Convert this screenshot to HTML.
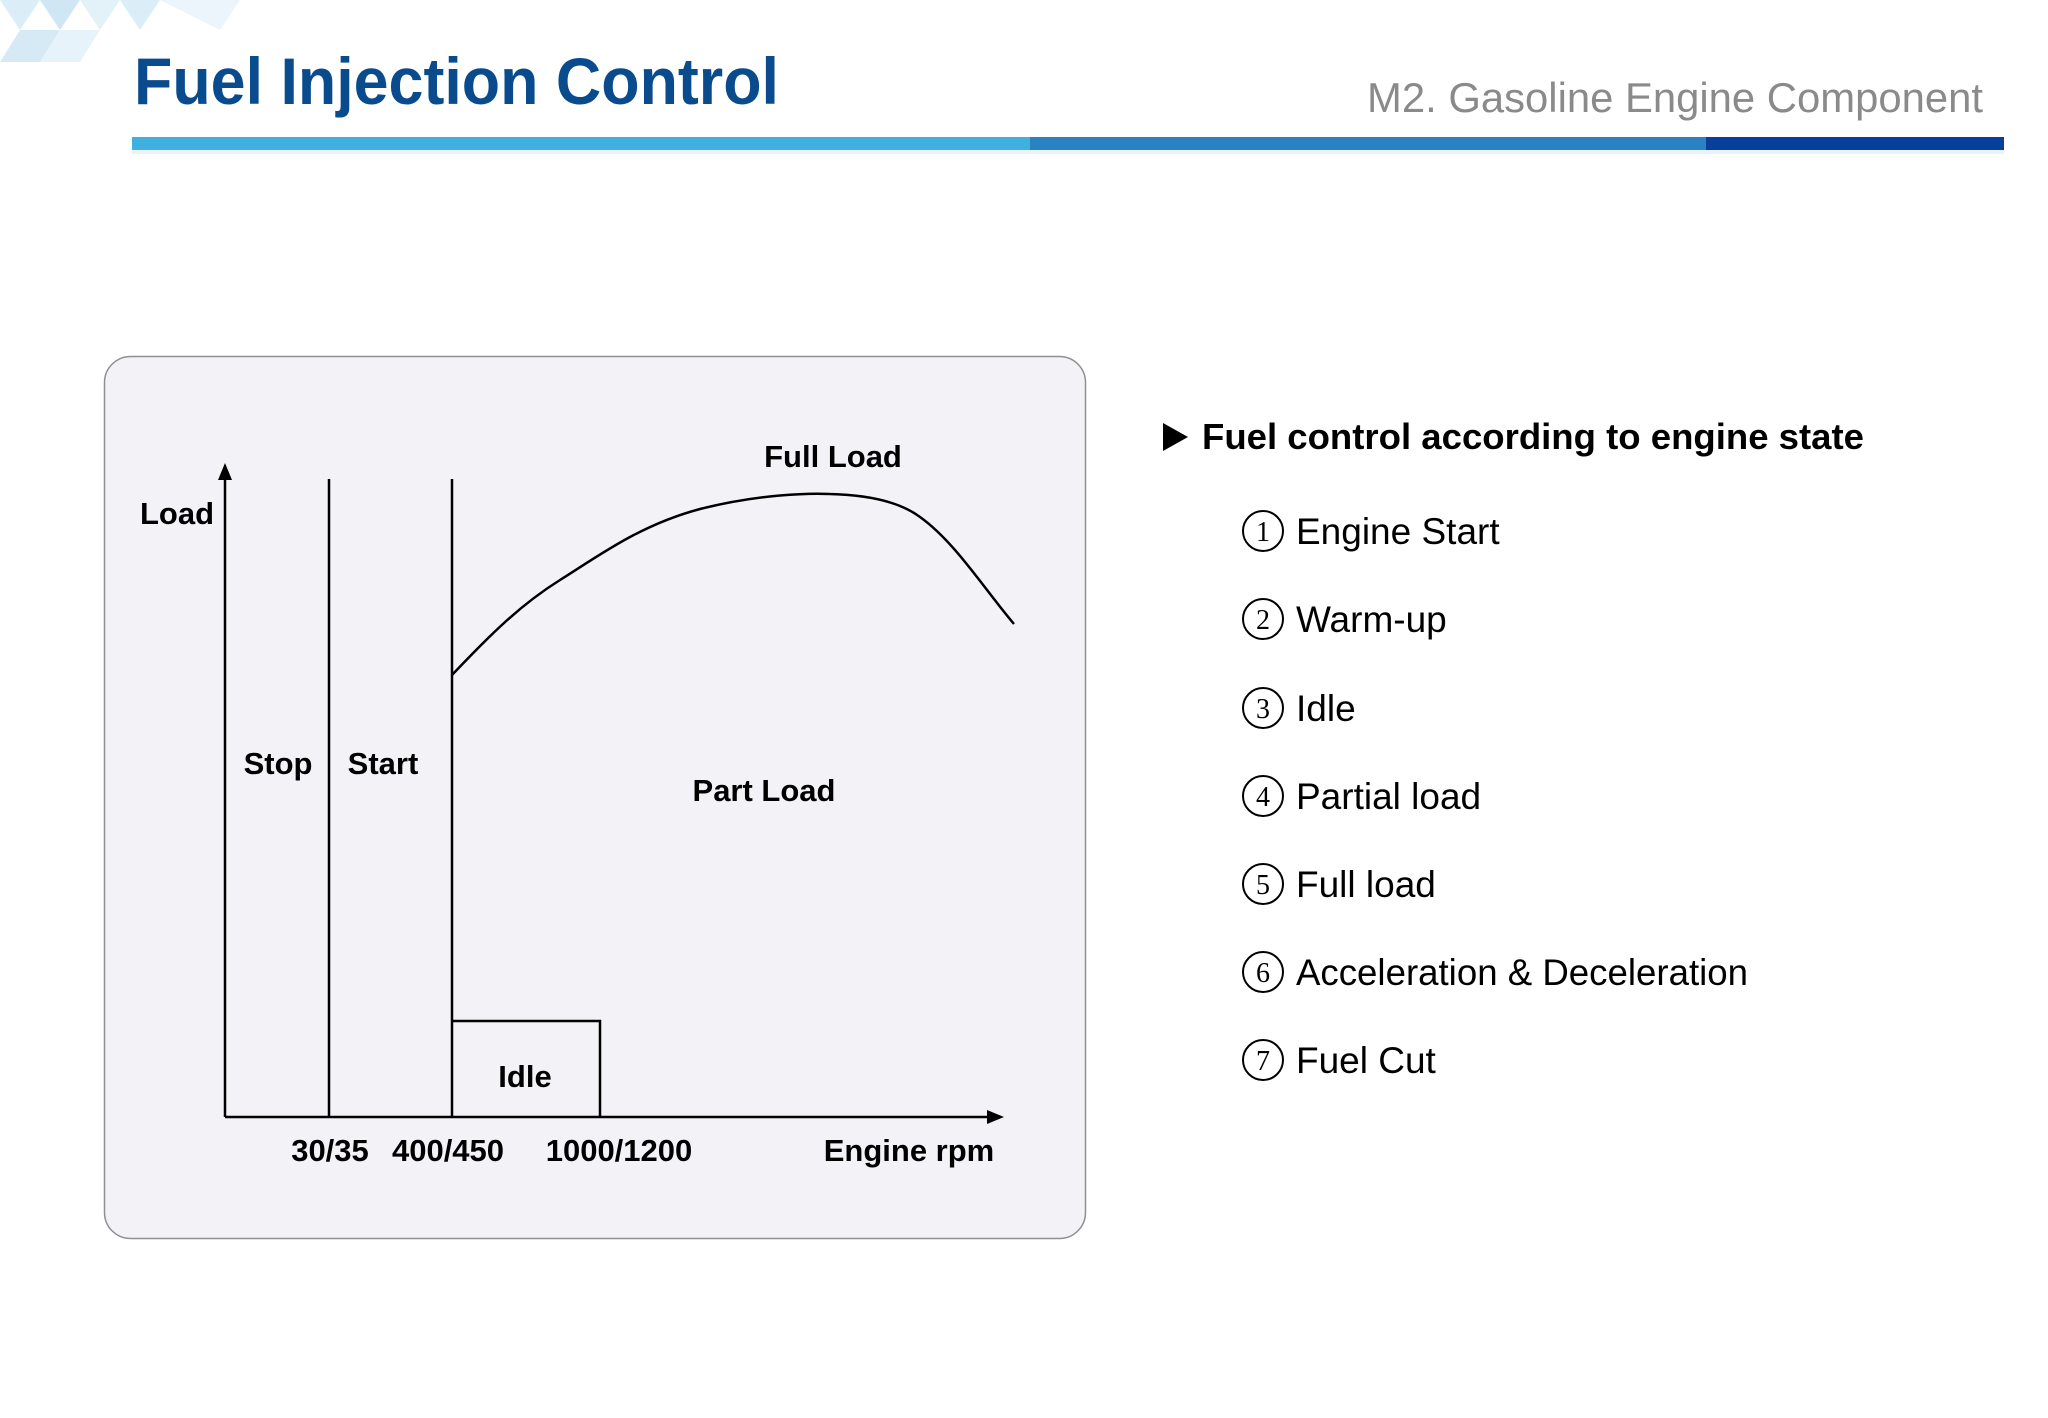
<!DOCTYPE html>
<html><head><meta charset="utf-8"><style>
html,body{margin:0;padding:0;background:#fff;}
svg{display:block;}
text{font-family:"Liberation Sans",Arial,sans-serif;}
</style></head><body>
<svg width="2048" height="1418" viewBox="0 0 2048 1418" xmlns="http://www.w3.org/2000/svg">
<rect width="2048" height="1418" fill="#fff"/>
<g opacity="0.55">
<polygon points="0,0 40,0 20,30" fill="#bfe0f2"/>
<polygon points="40,0 80,0 60,30" fill="#a9d4ee"/>
<polygon points="80,0 120,0 100,30" fill="#cde7f5"/>
<polygon points="120,0 160,0 140,30" fill="#bfe0f2"/>
<polygon points="160,0 240,0 220,30" fill="#dcedf8"/>
<polygon points="20,30 60,30 40,62 0,62" fill="#b5daf0"/>
<polygon points="60,30 100,30 80,62 40,62" fill="#d4eaf7"/>
</g>
<text x="134" y="104" font-size="66" font-weight="bold" fill="#0a4b8e" textLength="645" lengthAdjust="spacingAndGlyphs">Fuel Injection Control</text>
<text x="1367" y="112" font-size="42" fill="#8a8a8a" textLength="616" lengthAdjust="spacingAndGlyphs">M2. Gasoline Engine Component</text>
<rect x="132" y="137" width="898" height="13" fill="#3fb0e0"/>
<rect x="1030" y="137" width="676" height="13" fill="#2a82c2"/>
<rect x="1706" y="137" width="298" height="13" fill="#073f9a"/>
<rect x="132" y="150" width="1872" height="4" fill="#e8f3fa"/>

<rect x="104.5" y="356.5" width="981" height="882" rx="26" fill="#f3f2f6" stroke="#8f8f8f" stroke-width="1.5"/>
<g stroke="#000" stroke-width="2.5" fill="none">
<line x1="225" y1="1117" x2="225" y2="476"/>
<line x1="225" y1="1117" x2="990" y2="1117"/>
<line x1="329" y1="479" x2="329" y2="1117"/>
<line x1="452" y1="479" x2="452" y2="1117"/>
<polyline points="452,1021 600,1021 600,1117"/>
<path d="M452,675 C490,635 520,605 560,580 C600,555 640,525 700,509 C760,494 810,493 830,494 C870,495 900,502 920,517 C955,542 985,590 1014,624"/>
</g>
<polygon points="225,463 218,480 232,480" fill="#000"/>
<polygon points="1004,1117 987,1110 987,1124" fill="#000"/>
<g font-size="31" font-weight="bold" fill="#000" text-anchor="middle">
<text x="833" y="467">Full Load</text>
<text x="177" y="524">Load</text>
<text x="278" y="774">Stop</text>
<text x="383" y="774">Start</text>
<text x="764" y="801">Part Load</text>
<text x="525" y="1087">Idle</text>
<text x="330" y="1161">30/35</text>
<text x="448" y="1161">400/450</text>
<text x="619" y="1161">1000/1200</text>
<text x="909" y="1161">Engine rpm</text>
</g>

<polygon points="1163,423 1163,451 1188,437" fill="#000"/>
<text x="1202" y="449" font-size="36" font-weight="bold" fill="#000" textLength="662" lengthAdjust="spacingAndGlyphs">Fuel control according to engine state</text>
<g font-size="37" fill="#000">
<g stroke="#000" stroke-width="2" fill="none">
<circle cx="1263" cy="531" r="20"/>
<circle cx="1263" cy="619" r="20"/>
<circle cx="1263" cy="708" r="20"/>
<circle cx="1263" cy="796" r="20"/>
<circle cx="1263" cy="884" r="20"/>
<circle cx="1263" cy="972" r="20"/>
<circle cx="1263" cy="1060" r="20"/>
</g>
<g font-size="28" text-anchor="middle">
<text x="1263" y="541" style="font-family:'Liberation Serif',serif">1</text>
<text x="1263" y="629" style="font-family:'Liberation Serif',serif">2</text>
<text x="1263" y="718" style="font-family:'Liberation Serif',serif">3</text>
<text x="1263" y="806" style="font-family:'Liberation Serif',serif">4</text>
<text x="1263" y="894" style="font-family:'Liberation Serif',serif">5</text>
<text x="1263" y="982" style="font-family:'Liberation Serif',serif">6</text>
<text x="1263" y="1070" style="font-family:'Liberation Serif',serif">7</text>
</g>
<text x="1296" y="544">Engine Start</text>
<text x="1296" y="632">Warm-up</text>
<text x="1296" y="721">Idle</text>
<text x="1296" y="809">Partial load</text>
<text x="1296" y="897">Full load</text>
<text x="1296" y="985" textLength="452" lengthAdjust="spacingAndGlyphs">Acceleration &amp; Deceleration</text>
<text x="1296" y="1073">Fuel Cut</text>
</g>
</svg>
</body></html>
